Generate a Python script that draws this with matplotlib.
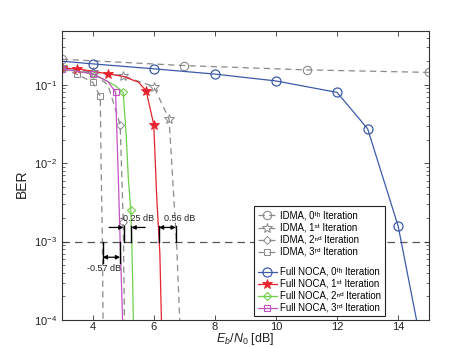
import matplotlib
matplotlib.use("Agg")
import matplotlib.pyplot as plt
from matplotlib.lines import Line2D

plt.rcParams['font.family'] = ['Liberation Sans', 'DejaVu Sans']
plt.rcParams['mathtext.fontset'] = 'custom'
plt.rcParams['mathtext.rm'] = 'Liberation Sans'
plt.rcParams['mathtext.it'] = 'Liberation Sans:italic'

# ---------------- data ----------------
idma0_x = [3, 7, 11, 15]
idma0_y = [0.212, 0.176, 0.155, 0.144]
idma0_mk = [0, 1, 2, 3]

idma1_x = [3, 4, 5, 6, 6.5, 6.6, 6.75, 6.85, 6.95]
idma1_y = [0.171, 0.144, 0.13, 0.095, 0.0366, 0.0085, 9e-4, 1e-4, 1.5e-5]
idma1_mk = [0, 1, 2, 3, 4]

idma2_x = [3, 4, 4.5, 4.9, 4.95, 5.0, 5.01, 5.04, 5.06]
idma2_y = [0.165, 0.14, 0.1, 0.031, 0.008, 0.0018, 1e-3, 1e-4, 3e-5]
idma2_mk = [0, 1, 3, 5]

idma3_x = [3, 3.5, 4, 4.25, 4.28, 4.32, 4.34, 4.36]
idma3_y = [0.16, 0.136, 0.108, 0.071, 0.008, 1e-3, 1e-4, 2e-5]
idma3_mk = [0, 1, 2, 3]

noca0_x = [3, 4, 6, 8, 10, 12, 13, 14, 15]
noca0_y = [0.2, 0.185, 0.16, 0.137, 0.112, 0.08, 0.0275, 0.00157, 1.6e-5]
noca0_mk = [1, 2, 3, 4, 5, 6, 7, 8]

noca1_x = [3, 3.5, 4.5, 5, 5.5, 5.75, 6.0, 6.1, 6.2, 6.3]
noca1_y = [0.163, 0.16, 0.138, 0.128, 0.108, 0.084, 0.031, 0.0035, 7e-4, 1.5e-5]
noca1_mk = [0, 1, 2, 5, 6]

noca2_x = [3, 4, 4.5, 4.75, 5.0, 5.1, 5.17, 5.25, 5.28, 5.31, 5.36]
noca2_y = [0.16, 0.138, 0.11, 0.097, 0.08, 0.022, 0.0062, 0.0025, 1e-3, 3e-4, 2.5e-5]
noca2_mk = [0, 1, 4, 7]

noca3_x = [3, 4, 4.5, 4.75, 4.8, 4.85, 4.9, 4.98, 5.02]
noca3_y = [0.16, 0.138, 0.11, 0.081, 0.02, 0.005, 1e-3, 1e-4, 3e-5]
noca3_mk = [0, 1, 3]

labels = ['IDMA, 0ᵗʰ Iteration', 'IDMA, 1ˢᵗ Iteration',
          'IDMA, 2ⁿᵈ Iteration', 'IDMA, 3ʳᵈ Iteration',
          'Full NOCA, 0ᵗʰ Iteration', 'Full NOCA, 1ˢᵗ Iteration',
          'Full NOCA, 2ⁿᵈ Iteration', 'Full NOCA, 3ʳᵈ Iteration']

xticks = [4, 6, 8, 10, 12, 14]
yticks = [1e-4, 1e-3, 1e-2, 1e-1]
ref_ber = 1e-3

# gaps: (x_left, x_right, label)
gap_low = (4.33, 4.90, '-0.57 dB')
gap_mid = (5.01, 5.27, '-0.25 dB')
gap_high = (6.17, 6.72, '0.56 dB')

# ---------------- plot ----------------
fig = plt.figure(figsize=(4.74, 3.47), dpi=100)
ax = fig.add_axes([0.131, 0.078, 0.7735, 0.833])

gray = '#8a8a8a'
blue = '#3b5ba9'
red = '#e8232d'
green = '#6fd04a'
mag = '#c353c3'
dash = (0, (5, 3.5))

ax.axhline(ref_ber, color='#555555', lw=0.9, ls=(0, (6, 4)), zorder=1)

h = []
h += ax.plot(idma0_x, idma0_y, color=gray, ls=dash, lw=0.9, marker='o', ms=6,
             mfc='none', mew=0.8, markevery=idma0_mk)
h += ax.plot(idma1_x, idma1_y, color=gray, ls=dash, lw=0.9, marker='*', ms=7.5,
             mfc='none', mew=0.7, markevery=idma1_mk)
h += ax.plot(idma2_x, idma2_y, color=gray, ls=dash, lw=0.9, marker='D', ms=4.5,
             mfc='none', mew=0.7, markevery=idma2_mk)
h += ax.plot(idma3_x, idma3_y, color=gray, ls=dash, lw=0.9, marker='s', ms=5,
             mfc='none', mew=0.7, markevery=idma3_mk)
h += ax.plot(noca0_x, noca0_y, color=blue, lw=0.9, marker='o', ms=6.5,
             mfc='none', mew=0.9, markevery=noca0_mk)
h += ax.plot(noca1_x, noca1_y, color=red, lw=0.9, marker='*', ms=7.5,
             mfc=red, mec=red, mew=0.6, markevery=noca1_mk)
h += ax.plot(noca2_x, noca2_y, color=green, lw=0.9, marker='D', ms=4.5,
             mfc='none', mew=0.8, markevery=noca2_mk)
h += ax.plot(noca3_x, noca3_y, color=mag, lw=0.9, marker='s', ms=5,
             mfc='none', mew=0.8, markevery=noca3_mk)

# annotations
bk = 'black'
def bars(gap, ytop):
    for xv in gap[:2]:
        ax.plot([xv, xv], [ref_ber, ytop], color=bk, lw=1.0, zorder=5)

arr = dict(arrowstyle='-|>', color=bk, lw=0.9, mutation_scale=6, shrinkA=0, shrinkB=0)
arr2 = dict(arrowstyle='<|-|>', color=bk, lw=0.9, mutation_scale=6, shrinkA=0, shrinkB=0)

y_low = 10 ** -3.27
bars(gap_low, y_low)
ax.annotate('', xy=(gap_low[1], 10 ** -3.2), xytext=(gap_low[0], 10 ** -3.2), arrowprops=arr2)
ax.text(4.37, 10 ** -3.28, gap_low[2], fontsize=6.5, ha='center', va='top', color='#222222')

y_up = 10 ** -2.8
bars(gap_mid, y_up)
ax.annotate('', xy=(gap_mid[0], 10 ** -2.82), xytext=(4.54, 10 ** -2.82), arrowprops=arr)
ax.annotate('', xy=(gap_mid[1], 10 ** -2.82), xytext=(5.72, 10 ** -2.82), arrowprops=arr)
ax.text(5.46, 10 ** -2.7, gap_mid[2], fontsize=6.5, ha='center', va='center', color='#222222')

bars(gap_high, y_up)
ax.annotate('', xy=(gap_high[1], 10 ** -2.82), xytext=(gap_high[0], 10 ** -2.82), arrowprops=arr2)
ax.text(6.86, 10 ** -2.7, gap_high[2], fontsize=6.5, ha='center', va='center', color='#222222')

ax.set_yscale('log')
ax.set_xlim(3, 15)
ax.set_ylim(1e-4, 10 ** -0.312)
ax.set_xticks(xticks)
ax.set_xticklabels([str(t) for t in xticks])
ax.set_yticks(yticks)
ax.tick_params(which='both', direction='in', top=True, right=True, labelsize=8,
               color='#333333', labelcolor='#222222')
ax.tick_params(axis='x', pad=1.8)
ax.tick_params(which='major', length=3.5, width=0.6)
ax.tick_params(which='minor', length=2, width=0.5)
for s in ax.spines.values():
    s.set_color('#333333')
    s.set_linewidth(0.8)

ax.set_ylabel('BER', fontsize=10, color='#222222')
ax.yaxis.set_label_coords(-0.09, 0.47)
fig.text(0.517, 0.0, r'$E_b/N_0$ [dB]', fontsize=9, color='#222222',
         ha='center', va='bottom')

# legend with a small spacer between the two groups
spacer = Line2D([], [], linestyle='none', marker=None)
handles = h[:4] + [spacer] + h[4:]
leg_labels = labels[:4] + [''] + labels[4:]
leg = ax.legend(handles, leg_labels, loc='lower left', bbox_to_anchor=(0.523, 0.012),
                fontsize=6.9, frameon=True, fancybox=False, edgecolor='#222222',
                framealpha=1, handlelength=2.0, handletextpad=0.3, labelspacing=0.22,
                handleheight=0.3, borderpad=0.4, borderaxespad=0)
leg.get_frame().set_linewidth(0.8)
leg.get_texts()[4].set_fontsize(1)

fig.savefig('out.png', dpi=100)
